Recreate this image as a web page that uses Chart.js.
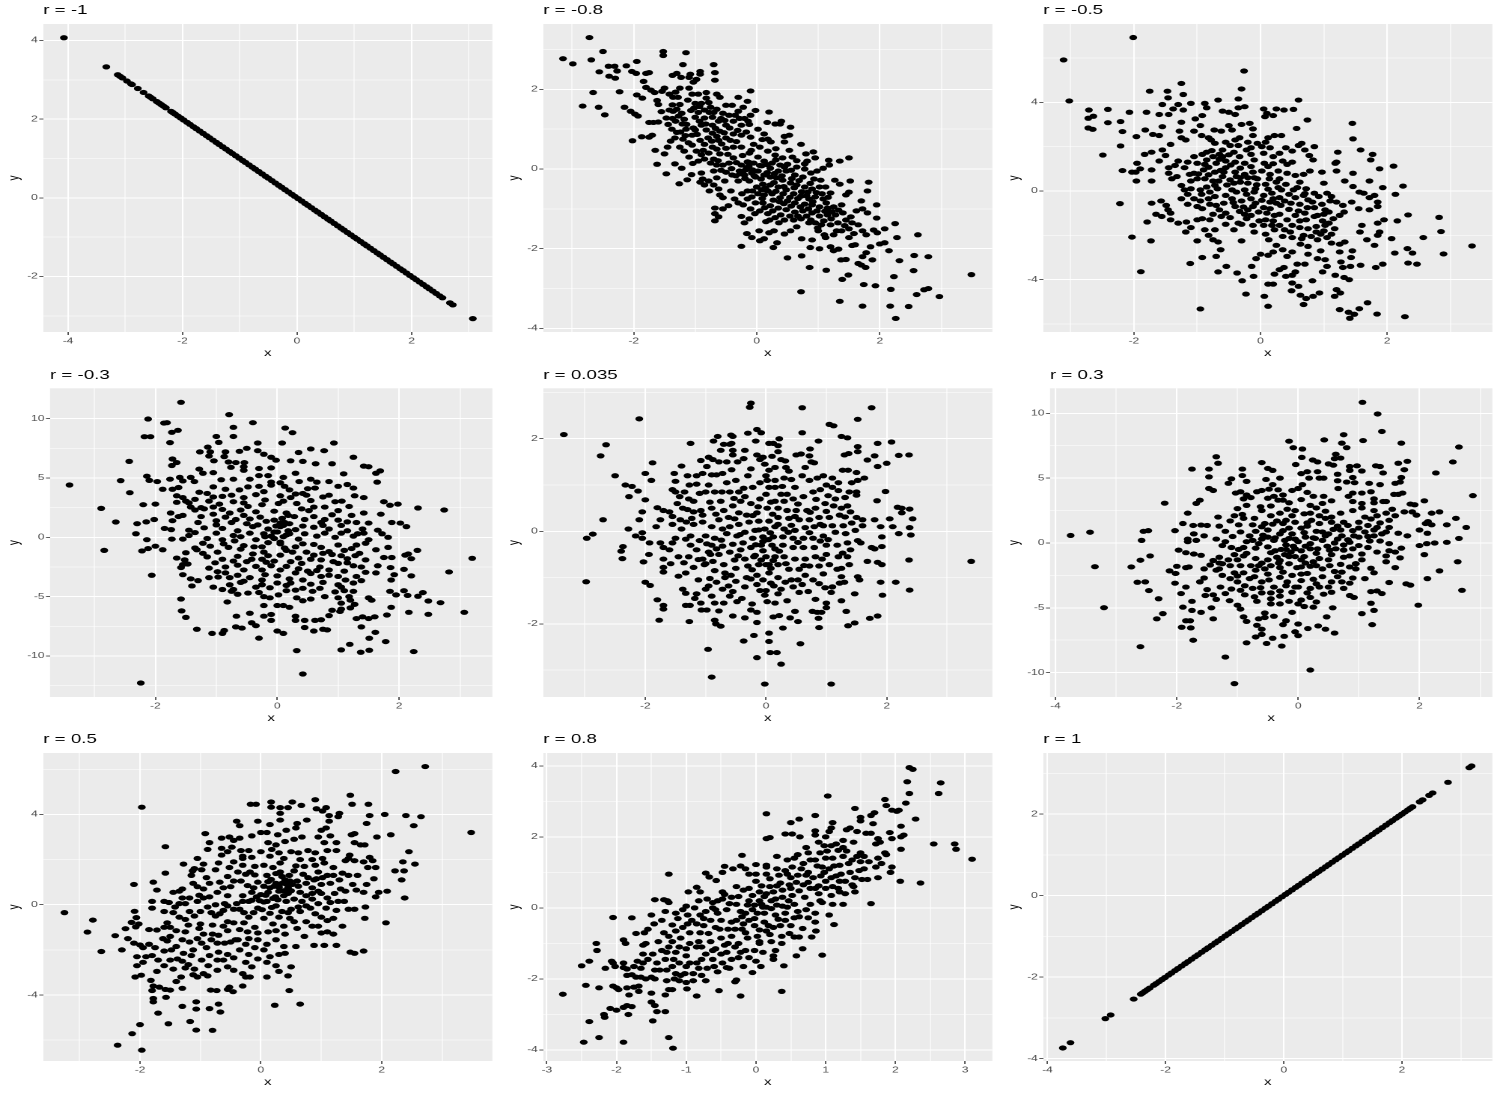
<!DOCTYPE html>
<html>
<head>
<meta charset="utf-8">
<title>Correlation scatter panels</title>
<script src="https://cdn.jsdelivr.net/npm/chart.js@4"></script>
<style>
  html, body { margin: 0; padding: 0; background: #fff; }
  #page { position: relative; width: 1500px; height: 1094px; overflow: hidden; }
  .cell { position: absolute; width: 334px; height: 365px; transform-origin: 0 0; }
  .cell canvas { display: block; }
</style>
</head>
<body>
<div id="page"></div>
<script>
// Samples for each panel, as [x, y].
const pointsNeg100 = [[-4.07,4.07],[-3.33,3.33],[-3.13,3.13],[-3.09,3.09],[-3.05,3.05],[-2.97,2.97],[-2.9,2.9],[-2.88,2.88],[-2.78,2.78],[-2.68,2.68],[-2.59,2.59],[-2.56,2.56],[-2.52,2.52],[-2.45,2.45],[-2.41,2.41],[-2.37,2.37],[-2.33,2.33],[-2.29,2.29],[-2.2,2.2],[-2.17,2.17],[-2.13,2.13],[-2.08,2.08],[-2.03,2.03],[-1.98,1.98],[-1.92,1.92],[-1.87,1.87],[-1.81,1.81],[-1.76,1.76],[-1.7,1.7],[-1.64,1.64],[-1.58,1.58],[-1.53,1.53],[-1.47,1.47],[-1.41,1.41],[-1.36,1.36],[-1.3,1.3],[-1.24,1.24],[-1.18,1.18],[-1.13,1.13],[-1.07,1.07],[-1.01,1.01],[-0.95,0.95],[-0.9,0.9],[-0.84,0.84],[-0.78,0.78],[-0.73,0.73],[-0.67,0.67],[-0.61,0.61],[-0.55,0.55],[-0.5,0.5],[-0.44,0.44],[-0.38,0.38],[-0.32,0.32],[-0.27,0.27],[-0.21,0.21],[-0.15,0.15],[-0.09,0.09],[-0.04,0.04],[0.02,-0.02],[0.08,-0.08],[0.14,-0.14],[0.19,-0.19],[0.25,-0.25],[0.31,-0.31],[0.36,-0.36],[0.42,-0.42],[0.48,-0.48],[0.54,-0.54],[0.59,-0.59],[0.65,-0.65],[0.71,-0.71],[0.77,-0.77],[0.82,-0.82],[0.88,-0.88],[0.94,-0.94],[1.0,-1.0],[1.05,-1.05],[1.11,-1.11],[1.17,-1.17],[1.22,-1.22],[1.28,-1.28],[1.34,-1.34],[1.4,-1.4],[1.45,-1.45],[1.51,-1.51],[1.57,-1.57],[1.63,-1.63],[1.68,-1.68],[1.74,-1.74],[1.8,-1.8],[1.85,-1.85],[1.91,-1.91],[1.97,-1.97],[2.03,-2.03],[2.08,-2.08],[2.14,-2.14],[2.2,-2.2],[2.26,-2.26],[2.31,-2.31],[2.37,-2.37],[2.43,-2.43],[2.49,-2.49],[2.54,-2.54],[2.67,-2.67],[2.72,-2.72],[3.07,-3.07]];

const pointsNeg80 = [[-3.15,2.77],[-2.99,2.64],[-2.72,3.3],[-2.69,2.74],[-2.5,2.95],[-2.56,2.44],[-2.66,1.92],[-2.83,1.58],[-2.57,1.55],[-2.47,1.36],[-2.41,2.58],[-2.31,2.58],[-2.4,2.33],[-2.27,2.46],[-2.3,2.28],[-2.23,1.94],[-2.12,2.59],[-1.95,2.7],[-2.03,2.45],[-1.96,2.4],[-2.15,1.55],[-2.05,1.45],[-1.98,1.38],[-1.93,1.33],[-2.02,0.71],[-1.87,0.81],[-1.75,0.8],[-1.7,0.85],[-1.95,1.86],[-1.86,1.78],[-1.84,2.2],[-1.8,2.4],[-1.75,2.42],[-1.8,2.05],[-1.72,1.98],[-1.66,1.92],[-1.75,1.17],[-1.68,1.17],[-1.6,1.18],[-1.65,0.47],[-1.62,0.12],[-1.47,-0.12],[-1.26,-0.37],[-1.13,-0.27],[-1.06,-0.14],[-1.33,0.13],[-1.22,0.02],[-1.5,0.38],[-1.45,0.55],[-1.4,0.7],[-1.54,1.95],[-1.5,2.03],[-1.42,1.88],[-1.36,1.8],[-1.62,1.72],[-1.6,1.62],[-1.55,1.44],[-1.47,1.28],[-1.44,1.12],[-1.38,1.0],[-1.3,0.92],[-1.52,2.95],[-1.52,2.85],[-1.15,2.92],[-1.2,2.62],[-0.7,2.62],[-0.68,2.42],[-0.68,2.23],[-1.37,2.35],[-1.3,2.4],[-1.23,2.3],[-1.1,2.3],[-1.08,2.38],[-0.92,2.45],[-0.92,2.38],[-1.03,2.18],[-0.98,2.25],[-1.32,1.93],[-1.25,2.03],[-1.1,2.03],[-1.05,1.88],[-0.95,1.88],[-0.82,1.92],[-0.82,1.78],[-0.65,1.88],[-0.6,1.8],[-1.28,1.8],[-1.25,1.62],[-1.3,1.5],[-1.22,1.4],[-1.36,1.45],[-1.42,1.48],[-1.18,1.25],[-1.32,1.2],[-1.15,1.0],[-1.05,0.85],[-1.2,0.75],[-1.25,0.55],[-1.18,0.45],[-1.05,0.6],[-1.1,0.3],[-0.98,0.45],[-0.95,0.2],[-1.04,0.14],[-0.9,-0.1],[-0.88,-0.25],[-0.85,-0.4],[-0.78,-0.3],[-0.77,-0.55],[-0.65,-0.22],[-0.62,-0.5],[-0.6,-0.65],[-0.55,-0.72],[-0.68,-0.98],[-0.68,-1.12],[-0.68,-1.3],[-0.62,-1.2],[-0.55,-1.0],[-0.46,-0.92],[-0.36,-0.75],[-0.3,-0.85],[-0.22,-0.9],[-0.15,-0.75],[-0.25,-1.19],[-0.2,-1.35],[-0.12,-1.25],[-0.03,-1.12],[-0.16,-1.62],[-0.08,-1.72],[-0.25,-1.94],[0.04,-1.55],[0.05,-1.8],[0.12,-1.75],[0.2,-1.6],[0.27,-1.97],[0.33,-1.85],[0.28,-1.55],[0.45,-1.63],[0.55,-1.55],[0.65,-1.45],[0.5,-2.23],[0.73,-2.18],[0.73,-1.75],[0.72,-3.08],[0.86,-2.47],[0.87,-1.97],[0.9,-1.78],[1.02,-2.0],[1.13,-2.54],[1.2,-1.95],[1.25,-2.05],[1.1,-1.65],[1.0,-1.55],[0.85,-1.35],[1.33,-2.01],[1.35,-3.32],[1.37,-2.28],[1.45,-2.27],[1.39,-2.77],[1.49,-2.66],[1.65,-2.37],[1.7,-2.41],[1.74,-2.9],[1.72,-3.44],[1.77,-2.47],[1.78,-2.1],[1.85,-1.95],[1.72,-2.2],[1.88,-2.28],[1.93,-2.93],[2.17,-3.44],[2.18,-3.02],[2.15,-2.05],[2.23,-2.7],[2.26,-3.75],[2.47,-3.45],[2.32,-2.3],[2.28,-1.72],[2.25,-1.37],[2.55,-2.55],[2.56,-2.17],[2.6,-3.15],[2.62,-1.65],[2.72,-3.03],[2.79,-3.0],[2.79,-2.2],[2.97,-3.2],[3.49,-2.65],[2.08,-1.85],[2.0,-1.88],[2.08,-1.5],[1.96,-1.6],[1.9,-1.53],[1.95,-1.23],[1.95,-0.9],[1.8,-1.1],[1.8,-0.55],[1.82,-0.33],[1.7,-0.8],[1.72,-1.0],[1.62,-1.05],[1.52,-0.3],[1.5,-0.58],[1.45,-0.65],[1.35,-0.38],[1.27,-0.28],[1.5,0.28],[1.35,0.2],[1.17,0.22],[1.18,0.1],[1.08,0.02],[0.98,-0.05],[0.92,0.43],[0.8,0.38],[0.72,0.62],[0.95,0.28],[0.82,0.2],[0.55,1.05],[0.4,1.2],[0.38,1.13],[0.3,1.13],[0.2,1.43],[0.17,1.17],[-0.1,1.96],[-0.15,1.7],[-0.3,1.8],[-0.22,1.55],[-0.4,1.6],[-0.5,1.6],[-0.1,1.35],[-0.02,1.47],[-0.2,1.27],[-0.35,1.35],[-0.3,1.45],[-0.45,1.35],[-0.55,1.4],[-0.65,1.5],[-0.75,1.55],[-0.9,1.65],[-1.0,1.65],[-0.85,1.48],[-0.95,1.42],[-1.0,1.3],[-0.85,1.28],[-0.72,1.3],[-0.62,1.2],[-0.72,1.1],[-0.9,1.1],[-0.82,0.98],[-0.72,0.9],[-0.6,0.95],[-0.5,1.1],[-0.38,1.2],[-0.25,1.1],[-0.12,1.12],[0.02,1.0],[0.12,0.88],[0.18,0.75],[0.45,0.82],[0.53,0.85],[0.45,0.68],[0.58,0.3],[0.42,0.28],[0.3,0.35],[0.18,0.45],[0.05,0.55],[-0.05,0.62],[-0.1,0.8],[-0.25,0.85],[-0.38,0.88],[-0.5,0.78],[-0.62,0.72],[-0.72,0.55],[-0.85,0.62],[-0.92,0.72],[-0.78,0.4],[-0.7,0.25],[-0.6,0.38],[-0.5,0.52],[-0.38,0.55],[-0.25,0.55],[-0.12,0.4],[0.02,0.3],[0.12,0.2],[0.25,0.15],[0.38,0.1],[0.5,0.12],[0.65,0.05],[0.78,0.0],[0.88,-0.1],[0.75,-0.2],[0.62,-0.15],[0.48,-0.05],[0.35,-0.05],[0.22,0.02],[0.08,0.08],[-0.05,0.15],[-0.15,0.18],[-0.25,0.1],[-0.38,0.28],[-0.45,0.15],[-0.55,0.1],[-0.65,0.1],[-0.75,0.15],[-0.5,-0.08],[-0.4,-0.15],[-0.28,-0.05],[-0.18,-0.02],[-0.08,-0.1],[-0.02,-0.2],[-0.2,-0.15],[-0.3,-0.3],[-0.12,-0.3],[0.02,-0.05],[0.12,-0.15],[0.22,-0.2],[0.32,-0.22],[0.42,-0.28],[0.55,-0.35],[0.65,-0.4],[0.78,-0.45],[0.9,-0.5],[1.02,-0.45],[1.12,-0.45],[1.2,-0.6],[1.08,-0.75],[0.95,-0.7],[0.85,-0.75],[0.72,-0.68],[0.6,-0.62],[0.48,-0.52],[0.35,-0.45],[0.22,-0.4],[0.1,-0.38],[0.0,-0.45],[0.02,-0.62],[0.12,-0.65],[0.25,-0.62],[0.38,-0.72],[0.5,-0.8],[0.62,-0.85],[0.78,-0.88],[0.9,-0.9],[1.02,-0.95],[1.15,-0.98],[1.25,-0.95],[1.38,-0.9],[1.4,-1.1],[1.28,-1.15],[1.15,-1.15],[1.02,-1.18],[0.9,-1.1],[0.75,-1.05],[0.62,-1.08],[0.48,-1.02],[0.35,-0.98],[0.22,-0.92],[0.1,-0.85],[-0.02,-0.85],[0.05,-1.05],[0.18,-1.12],[0.3,-1.22],[0.45,-1.28],[0.6,-1.28],[0.72,-1.25],[0.88,-1.28],[1.05,-1.4],[1.2,-1.4],[1.32,-1.35],[1.45,-1.28],[1.55,-1.35],[1.65,-1.4],[1.5,-1.5],[1.38,-1.55],[1.25,-1.65],[1.12,-1.72],[1.58,-1.62],[1.72,-1.55],[1.78,-1.65],[1.5,-1.72],[1.6,-1.9],[1.55,-1.92],[0.15,-1.32],[-0.1,-1.0],[-0.52,-0.3],[-0.7,-0.4],[-0.65,0.5],[-0.85,0.25],[-0.7,-0.05],[-0.92,-0.33],
[-1.37,1.61],[-1.27,1.33],[-1.12,1.73],[-1.07,1.47],[-0.93,1.57],[-1.14,1.12],[-1.24,0.93],[-1.03,1.03],[-0.97,0.87],[-1.11,0.66],[-0.83,1.13],[-0.77,1.42],[-0.58,1.27],[-0.67,1.02],[-0.44,1.03],[-0.53,0.91],[-0.31,0.97],[-0.43,0.72],[-0.57,0.63],[-0.79,0.78],[-0.87,0.47],[-0.33,0.69],[-0.17,0.93],[-0.09,0.47],[-0.23,0.34],[-0.47,0.37],[-0.63,0.21],[-0.33,0.16],[-0.13,0.07],[-0.27,-0.12],[-0.41,0.01],[-0.58,-0.03],[-0.19,-0.24],[-0.07,-0.02],[-0.34,-0.17],[-0.12,0.16],[0.05,0.09],[-0.16,0.03],[-0.23,-0.07],[-0.04,-0.17],[0.07,-0.25],[0.17,-0.09],[0.29,-0.11],[0.17,0.11],[0.31,0.23],[0.45,0.05],[0.56,-0.03],[0.41,-0.17],[0.57,-0.24],[0.69,-0.29],[0.28,-0.34],[0.14,-0.48],[0.44,-0.44],[0.61,-0.47],[0.73,-0.57],[0.83,-0.58],[0.97,-0.59],[1.06,-0.62],[1.16,-0.71],[0.91,-0.82],[0.81,-0.67],[0.67,-0.74],[0.54,-0.71],[0.43,-0.62],[0.31,-0.56],[0.18,-0.55],[0.08,-0.52],[-0.07,-0.55],[0.09,-0.74],[0.27,-0.78],[0.44,-0.87],[0.56,-0.93],[0.71,-0.95],[0.84,-1.0],[0.98,-1.05],[1.11,-1.06],[1.22,-1.07],[1.33,-1.03],[1.21,-1.25],[1.09,-1.3],[0.95,-1.35],[0.81,-1.18],[0.67,-1.18],[0.54,-1.18],[0.39,-1.15],[0.26,-1.05],[0.13,-0.97],[-0.15,-0.55],[-0.42,-0.55],[-0.24,-0.62],[-0.08,-0.7],[0.65,0.21],[0.78,0.13],[0.93,-0.25],[1.04,-0.28],[0.87,-0.36],[0.53,0.47],[0.23,0.68],[0.09,0.74],[0.31,0.51],[-0.65,0.82],[-1.0,0.98],[-0.9,0.36],[-1.02,1.53],[-0.78,1.67],[-1.21,1.13],[-0.73,0.7],[-1.37,1.27],[-1.33,0.78],[-1.16,0.84],[-0.52,1.22],[-0.28,1.27],[-0.14,1.2],[0.37,-0.82],[1.53,-1.2],[1.43,-1.42],[1.3,-1.55],[0.99,-1.48],[1.13,-0.85],[0.21,-1.28],[0.36,-1.35],[-0.93,1.2],[-0.7,1.42]];

const pointsNeg50 = [[-3.11,5.91],[-2.01,6.92],[-3.02,4.06],[-0.26,5.41],[-2.71,3.65],[-2.72,3.28],[-2.64,3.37],[-2.72,2.84],[-2.65,2.78],[-2.41,3.68],[-2.41,3.08],[-2.07,3.55],[-2.21,3.13],[-2.18,2.68],[-2.49,1.62],[-2.21,2.03],[-2.18,0.92],[-2.22,-0.57],[-2.03,-2.08],[-1.89,-3.64],[-0.95,-5.32],[3.34,-2.48],[2.82,-1.19],[2.85,-1.83],[2.89,-2.84],[2.57,-2.1],[2.28,-5.67],[1.41,-5.74],[1.84,-5.55],[1.69,-5.04],[1.56,-5.31],[1.48,-5.56],[1.39,-5.47],[1.25,-5.35],[-1.25,4.85],[-1.75,4.5],[-1.47,4.5],[-1.46,4.2],[-1.22,4.35],[-1.55,3.9],[-1.3,3.9],[-1.38,3.7],[-1.22,3.65],[-1.45,3.45],[-1.6,3.45],[-1.8,3.55],[-1.1,3.95],[-0.88,3.95],[-0.85,3.75],[-0.67,4.1],[-0.3,4.6],[-0.35,4.15],[-0.5,3.55],[-0.6,3.6],[-0.35,3.75],[-0.25,3.8],[-0.4,3.45],[0.05,3.7],[0.25,3.7],[0.37,3.65],[0.52,3.68],[0.6,4.1],[0.1,3.5],[0.07,3.35],[0.2,3.4],[0.74,3.2],[0.57,2.82],[1.45,3.05],[1.46,2.35],[0.85,2.0],[0.65,2.15],[0.6,2.05],[0.7,1.85],[0.77,1.6],[0.83,1.4],[1.22,1.75],[1.58,1.85],[1.77,1.65],[1.74,1.4],[1.88,1.0],[2.1,1.12],[1.2,1.3],[1.18,1.25],[0.97,0.85],[1.2,0.9],[1.46,0.8],[1.33,0.45],[1.72,0.45],[1.93,0.15],[2.25,0.22],[2.13,-0.15],[1.46,0.2],[1.56,-0.05],[1.63,-0.1],[1.8,-0.2],[1.72,-0.3],[1.85,-0.5],[1.44,-0.5],[1.55,-0.8],[1.72,-0.85],[1.85,-0.7],[2.33,-1.08],[2.16,-1.35],[1.95,-1.3],[1.85,-1.45],[1.6,-1.55],[1.57,-1.85],[1.68,-2.2],[1.88,-1.85],[1.85,-2.0],[1.8,-2.45],[2.07,-2.15],[2.12,-2.8],[2.32,-2.6],[2.4,-2.8],[2.33,-3.25],[2.47,-3.3],[1.93,-3.3],[1.82,-3.45],[1.58,-3.35],[1.42,-3.4],[1.3,-3.45],[1.45,-2.7],[1.43,-3.0],[1.33,-2.3],[1.25,-2.75],[1.27,-3.2],[1.18,-3.8],[1.32,-3.9],[1.4,-4.0],[1.2,-4.45],[1.17,-4.75],[1.26,-4.6],[0.93,-4.6],[0.83,-4.75],[0.72,-4.85],[0.63,-4.7],[0.68,-5.12],[0.49,-4.5],[0.6,-4.3],[0.5,-4.15],[0.82,-4.05],[0.2,-4.2],[0.12,-4.2],[0.06,-4.75],[0.12,-5.2],[-0.23,-4.65],[-0.29,-4.05],[-0.37,-3.7],[-0.11,-3.85],[-0.54,-3.4],[-0.67,-3.65],[-0.14,-3.4],[-0.07,-3.05],[-0.7,-2.95],[-0.92,-3.0],[-1.11,-3.27],[-0.63,-2.65],[-0.67,-2.3],[-1.0,-2.25],[-0.82,-2.0],[-0.75,-2.2],[-1.73,-2.25],[-1.79,-1.4],[-1.72,-0.55],[-1.57,-0.45],[-1.49,-0.65],[-1.46,-0.85],[-1.42,-1.0],[-1.65,-1.05],[-1.56,-1.15],[-1.42,-1.3],[-1.3,-1.45],[-1.17,-1.4],[-1.1,-1.65],[-1.18,-1.85],[-1.0,-1.3],[-0.92,-1.25],[-0.88,-1.75],[-0.8,-1.3],[-0.72,-1.75],[-0.55,-1.5],[-0.42,-1.75],[-0.3,-1.5],[-0.3,-2.25],[-0.22,-1.25],[-0.1,-1.85],[-0.02,-1.35],[0.08,-1.95],[0.13,-2.2],[0.0,-2.85],[0.12,-2.9],[0.2,-2.75],[0.25,-2.45],[0.35,-2.65],[0.42,-2.95],[0.37,-3.45],[0.3,-3.55],[0.22,-3.75],[0.4,-3.85],[0.5,-3.8],[0.58,-3.3],[0.55,-3.65],[0.7,-3.3],[0.75,-2.85],[0.9,-3.05],[0.5,-2.75],[0.63,-2.4],[0.75,-2.5],[0.9,-2.2],[0.95,-2.7],[1.02,-3.1],[0.98,-3.65],[1.05,-3.4],[1.12,-2.35],[1.05,-2.1],[1.0,-1.8],[0.88,-1.6],[0.72,-1.3],[0.62,-1.65],[0.5,-2.1],[0.38,-1.75],[0.3,-1.55],[0.2,-1.35],[0.08,-1.3],[0.22,-1.75],[0.42,-1.3],[0.55,-1.1],[0.7,-1.0],[0.85,-0.75],[0.98,-1.35],[1.15,-1.25],[1.25,-1.1],[1.3,-0.65],[1.1,-0.45],[1.02,-0.85],[0.92,-0.25],[0.75,-0.4],[0.62,-0.6],[0.48,-0.55],[0.32,-0.65],[0.15,-0.5],[0.05,-0.75],[-0.08,-0.55],[-0.2,-0.85],[-0.3,-0.45],[-0.4,-0.7],[-0.45,-0.35],[-0.55,-1.0],[-0.7,-0.65],[-0.82,-0.35],[-0.92,-0.8],[-1.05,-0.35],[-1.15,-0.15],[-1.25,-0.35],[-1.1,0.1],[-0.95,0.05],[-0.8,-0.05],[-0.68,0.1],[-0.55,-0.2],[-0.38,-0.05],[-0.22,-0.15],[-0.08,0.1],[0.05,-0.2],[0.18,-0.1],[0.3,-0.3],[0.45,-0.15],[0.58,0.15],[0.72,0.1],[0.85,-0.1],[1.0,0.35],[1.12,-0.25],[0.4,0.3],[0.25,0.4],[0.08,0.3],[-0.05,0.55],[-0.2,0.6],[-0.32,0.4],[-0.48,0.5],[-0.6,0.65],[-0.75,0.45],[-0.88,0.55],[-1.0,0.55],[-1.1,0.45],[-1.25,0.25],[-1.05,0.8],[-0.9,0.95],[-0.72,0.85],[-0.55,1.05],[-0.4,0.85],[-0.25,0.75],[-0.12,0.85],[0.02,0.9],[0.12,1.1],[0.28,0.9],[0.42,0.8],[0.5,1.3],[0.35,1.35],[0.2,1.55],[0.05,1.7],[-0.1,1.4],[-0.25,1.25],[-0.4,1.3],[-0.55,1.35],[-0.7,1.25],[-0.85,1.4],[-1.0,1.25],[-1.15,1.3],[-1.3,1.35],[-1.45,1.05],[-1.32,0.65],[-1.45,0.8],[-1.6,1.35],[-1.72,1.75],[-1.55,1.85],[-1.42,2.1],[-1.5,1.6],[-1.72,0.95],[-1.72,0.45],[-1.9,1.0],[-1.97,0.85],[-2.03,0.85],[-1.96,0.45],[-1.95,1.25],[-1.83,1.65],[-1.7,2.55],[-1.6,2.5],[-1.55,2.9],[-1.82,2.75],[-1.96,2.45],[-1.25,3.1],[-1.25,2.4],[-1.18,2.3],[-1.28,2.7],[-1.03,3.25],[-0.92,3.4],[-0.95,2.95],[-1.05,2.7],[-0.93,2.5],[-0.82,2.4],[-0.73,2.75],[-0.62,2.7],[-0.5,2.95],[-0.45,2.75],[-0.3,3.0],[-0.17,3.05],[-0.12,2.8],[-0.33,2.4],[-0.12,2.5],[0.12,2.4],[0.22,2.5],[0.33,2.5],[0.08,2.2],[-0.05,2.15],[-0.2,2.2],[-0.4,2.3],[-0.55,2.2],[-0.72,2.15],[-0.85,1.75],[-0.75,1.55],[-0.6,1.85],[-0.42,1.75],[-0.22,1.85],[0.15,1.95],[0.3,1.7],[0.4,1.95],[0.5,1.8],[0.42,1.2],[0.55,0.7],[0.78,0.9],[0.62,0.4],[-1.0,-0.7],[-0.62,-1.15],[-0.25,-1.05],[0.1,-1.0],[-0.45,0.05],[-0.15,-0.35],[0.33,0.05],[-0.6,1.55],[-1.4,0.55],
[-0.77,1.82],[-0.65,1.43],[-0.5,1.63],[-0.33,1.55],[-0.15,1.65],[-0.92,1.65],[-1.05,1.55],[-0.82,1.07],[-0.63,0.93],[-0.47,1.17],[-0.32,1.03],[-0.15,1.1],[0.06,1.25],[0.2,1.23],[-0.98,0.77],[-0.82,0.73],[-0.66,0.45],[-0.53,0.27],[-0.38,0.65],[-0.2,0.35],[-0.06,0.28],[0.14,0.55],[0.28,0.15],[-0.93,-0.15],[-0.72,-0.25],[-0.58,-0.55],[-0.43,-0.52],[-0.27,-0.72],[-0.12,-0.7],[0.02,-0.42],[0.2,-0.35],[0.38,-0.45],[0.55,-0.3],[0.68,-0.2],[0.82,-0.5],[0.97,-0.6],[1.08,-0.95],[0.9,-1.1],[0.74,-0.75],[0.6,-0.9],[0.45,-0.83],[0.3,-1.05],[0.15,-0.8],[-0.03,-0.95],[-0.15,-1.1],[-0.33,-0.92],[-0.48,-1.2],[0.88,-1.85],[0.75,-1.7],[0.62,-1.35],[0.5,-1.55],[0.35,-2.05],[0.18,-1.55],[1.02,-1.55],[1.17,-1.7],[1.12,-1.95],[1.25,-2.4],[0.95,-1.95],[0.8,-2.05],[0.68,-2.0],[-0.8,-0.6],[-0.65,-0.85],[-0.95,-0.45],[-1.15,-0.6],[-1.2,0.05],[-0.85,0.18],[-0.72,0.25],[-0.25,0.05],[-0.1,-0.05],[0.12,0.08],[0.25,-0.55],[0.52,0.05],[0.7,-0.12],[1.05,-0.1],[1.2,-0.5],[1.32,-0.95],[-0.42,0.35],[-0.15,1.95],[0.02,2.0],[-0.35,2.05],[-0.65,1.65],[-0.88,1.2],[-1.2,1.05],[-1.12,0.75],[-1.35,1.15],[-0.48,2.05],[-0.78,2.3],[-0.32,0.6],[-0.58,0.85],[-0.1,0.6],[0.15,0.75],[0.3,0.55],[0.68,0.75],[-0.75,-1.05],[-0.35,-1.45],[-0.12,-1.55],[0.05,-1.55],[0.22,-1.1],[0.47,-1.85],[0.65,-2.15],[0.85,-1.15],[1.0,-1.05],[1.08,-1.45]];

const pointsNeg30 = [[-3.41,4.41],[-2.89,2.44],[-2.65,1.29],[-2.84,-1.1],[-1.58,11.38],[-2.12,9.97],[-0.79,10.34],[-1.86,9.63],[-1.81,9.66],[-0.4,9.66],[-0.72,9.27],[0.13,9.21],[0.25,8.82],[-1.63,9.02],[-1.73,8.85],[-2.18,8.48],[-2.08,8.48],[-1.76,7.98],[-2.43,6.4],[-2.57,4.78],[-2.42,3.76],[-2.24,-12.28],[0.42,-11.52],[0.32,-9.55],[2.24,-9.63],[1.05,-9.49],[1.19,-9.02],[1.37,-9.69],[1.51,-9.52],[1.51,-8.51],[1.61,-8.01],[1.78,-8.79],[3.07,-6.32],[3.2,-1.77],[2.82,-2.92],[2.74,2.3],[2.31,2.47],[2.48,-5.37],[2.68,-5.51],[2.48,-6.49],[2.39,-4.66],[2.31,-4.97],[2.16,-6.32],[-1.0,8.5],[-0.96,8.0],[-0.72,8.5],[-0.32,7.95],[0.08,7.95],[0.93,7.95],[-1.14,7.6],[-0.5,7.5],[0.55,7.45],[0.77,7.3],[-1.27,7.2],[-1.1,7.2],[-0.85,7.2],[-0.62,7.25],[-0.32,7.3],[-0.22,7.0],[0.35,7.15],[-1.12,6.85],[-0.87,6.8],[-0.1,6.75],[-0.02,6.5],[1.25,6.75],[-1.72,6.6],[-1.65,6.3],[-1.73,6.05],[-1.04,6.45],[-0.8,6.35],[-0.68,6.3],[-0.54,6.3],[0.22,6.45],[0.42,6.4],[0.63,6.2],[0.9,6.2],[1.42,6.0],[1.5,5.95],[-0.55,5.95],[-1.28,5.75],[-0.76,5.9],[-0.3,5.8],[-0.1,5.85],[1.62,5.4],[1.69,5.6],[1.09,5.35],[0.3,5.4],[-1.6,5.05],[-1.42,5.05],[-1.22,5.4],[-1.05,5.45],[-0.55,5.65],[-0.3,5.2],[-0.15,5.2],[0.1,5.05],[0.55,4.9],[-2.14,5.15],[-2.1,4.8],[-1.97,4.7],[-1.76,4.9],[-1.55,4.75],[-1.36,4.7],[-0.92,4.85],[-0.72,4.9],[-0.45,4.9],[-0.1,4.65],[0.05,4.6],[0.36,4.7],[0.65,4.65],[0.85,4.7],[1.15,4.45],[1.64,4.65],[-1.88,4.05],[-1.72,4.05],[-1.62,4.2],[-1.05,4.25],[-0.62,4.0],[-0.48,4.25],[-0.3,4.3],[-0.1,4.4],[0.12,4.3],[0.5,4.1],[0.62,4.15],[1.0,4.3],[1.25,4.15],[-1.65,3.5],[-1.55,3.35],[-1.28,3.8],[-1.15,3.7],[-0.9,3.45],[-0.75,3.55],[-0.35,3.6],[0.3,3.65],[0.42,3.7],[0.75,3.4],[1.27,3.5],[1.42,3.35],[-2.0,2.8],[-1.65,2.95],[-1.5,3.05],[-1.35,3.2],[-1.12,3.05],[-0.95,2.8],[-0.55,2.9],[-0.2,3.15],[0.1,3.05],[0.32,2.85],[0.55,3.1],[0.95,3.0],[1.06,3.05],[1.75,3.0],[1.85,2.7],[1.98,2.8],[-2.2,2.75],[-1.75,2.05],[-1.55,1.85],[-1.35,2.3],[-1.25,2.5],[-1.05,1.95],[-0.85,1.7],[-0.6,2.3],[-0.35,2.15],[-0.05,2.2],[0.15,2.05],[0.52,2.25],[0.78,2.55],[1.0,2.25],[1.22,1.85],[1.42,2.05],[1.7,1.95],[-2.15,1.3],[-2.02,1.5],[-1.72,1.4],[-1.62,1.75],[-1.3,1.25],[-1.0,1.4],[-0.75,1.25],[-0.45,1.55],[-0.18,1.35],[0.08,1.6],[0.2,1.15],[0.45,1.5],[0.78,1.5],[1.0,1.45],[1.3,1.25],[1.5,1.2],[1.88,1.25],[2.02,1.2],[2.12,0.9],[-2.3,1.15],[-1.85,0.75],[-1.74,0.65],[-1.45,0.6],[-1.2,0.8],[-0.9,0.75],[-0.65,0.55],[-0.4,0.9],[-0.15,0.7],[0.05,0.9],[0.3,0.65],[0.6,0.85],[0.85,0.7],[1.15,0.55],[1.4,0.7],[1.65,0.6],[-2.32,0.3],[-2.14,-0.2],[-1.73,-0.15],[-1.55,-0.15],[-1.15,-0.1],[-0.9,-0.2],[-0.6,0.05],[-0.35,-0.2],[-0.1,0.1],[0.1,0.05],[0.35,-0.15],[0.65,0.1],[0.95,0.0],[1.25,0.1],[1.5,-0.2],[1.72,0.3],[1.82,0.0],[-2.22,-1.15],[-2.12,-0.95],[-2.0,-0.75],[-1.88,-1.05],[-1.5,-1.3],[-1.32,-1.05],[-1.1,-0.75],[-0.8,-0.85],[-0.55,-0.7],[-0.25,-0.8],[0.05,-0.55],[0.3,-0.8],[0.6,-0.6],[0.85,-1.2],[1.1,-1.1],[1.3,-0.65],[1.62,-1.05],[1.82,-0.85],[2.15,-1.4],[2.1,-1.5],[2.3,-1.1],[-1.65,-1.75],[-1.52,-1.9],[-1.15,-1.65],[-0.9,-1.85],[-0.65,-1.6],[-0.4,-1.4],[-0.15,-1.55],[0.05,-1.5],[0.35,-1.75],[0.6,-1.5],[0.9,-1.45],[1.15,-1.8],[1.45,-1.9],[1.75,-1.7],[1.88,-1.7],[2.2,-1.8],[-1.58,-2.55],[-1.47,-2.25],[-1.12,-2.6],[-0.85,-2.5],[-0.65,-2.35],[-0.35,-2.45],[-0.1,-2.4],[0.15,-2.45],[0.4,-2.2],[0.7,-2.5],[0.85,-2.75],[1.25,-2.4],[1.45,-2.95],[1.62,-3.0],[1.86,-2.55],[2.08,-2.7],[-2.06,-3.2],[-1.55,-3.15],[-1.42,-3.5],[-1.3,-3.65],[-1.12,-3.4],[-0.97,-3.35],[-0.65,-3.2],[-0.45,-3.4],[-0.2,-3.15],[0.0,-3.25],[0.3,-3.0],[0.55,-3.05],[0.85,-3.2],[1.0,-3.3],[1.3,-3.3],[1.38,-3.65],[1.92,-3.15],[1.87,-3.6],[2.2,-3.25],[-1.4,-4.1],[-1.05,-4.2],[-0.9,-4.4],[-0.78,-4.0],[-0.6,-3.8],[-0.35,-4.2],[0.0,-3.85],[0.15,-4.05],[0.3,-4.45],[0.55,-3.95],[0.75,-3.8],[1.0,-4.0],[1.25,-3.85],[-0.72,-4.4],[-0.65,-4.8],[-0.3,-4.65],[0.02,-4.85],[0.15,-4.5],[0.42,-4.3],[0.58,-4.55],[0.95,-4.6],[1.1,-4.5],[1.25,-4.55],[1.85,-4.55],[1.95,-4.85],[2.08,-4.5],[2.14,-4.9],[-1.58,-5.2],[-0.82,-5.45],[-0.22,-5.0],[0.42,-5.35],[0.55,-5.2],[1.0,-5.1],[1.18,-5.0],[1.5,-5.1],[1.55,-5.3],[-1.57,-6.2],[-1.5,-6.75],[-0.67,-6.65],[-0.45,-6.4],[-0.22,-6.65],[-0.1,-6.5],[0.0,-5.75],[0.1,-5.75],[0.2,-5.9],[-0.22,-5.75],[0.3,-6.65],[0.3,-7.0],[0.45,-7.0],[0.62,-7.0],[0.72,-6.95],[0.85,-6.6],[0.9,-6.15],[1.03,-6.25],[1.05,-6.05],[1.2,-5.95],[1.27,-5.65],[1.3,-6.85],[1.4,-6.7],[1.5,-6.85],[1.6,-6.7],[1.8,-6.55],[1.87,-5.9],[-1.32,-7.75],[-1.07,-8.1],[-0.9,-8.1],[-0.87,-7.85],[-0.68,-7.55],[-0.58,-7.65],[-0.42,-7.2],[-0.35,-7.45],[-0.3,-8.5],[-0.1,-7.0],[0.0,-7.9],[0.1,-8.1],[0.45,-7.6],[0.6,-7.9],[0.75,-7.75],[0.82,-7.8],[1.38,-7.55],[-1.55,-2.3],[0.2,0.3],[-0.05,-0.1],[0.1,1.0],[-0.25,-1.85],[0.25,-1.25],[-0.7,-0.3],[0.72,-1.9],[1.05,1.0],[-0.9,2.35],[-0.5,1.15],[0.4,2.4],[0.75,1.0],[-1.45,2.9],[-0.05,-2.0],[0.5,-2.85],[1.0,-2.2],
[-1.05,3.4],[-0.72,3.0],[-0.48,2.6],[-0.25,2.75],[0.02,2.85],[0.22,3.35],[0.48,3.55],[-0.78,2.05],[-0.55,1.85],[-0.28,1.7],[-0.05,1.45],[0.12,1.25],[0.28,1.75],[0.6,1.75],[0.9,1.9],[1.18,2.6],[-1.0,1.05],[-0.68,1.5],[-0.32,1.05],[-0.02,0.95],[0.18,1.85],[0.42,0.95],[0.72,1.25],[-1.35,0.4],[-1.0,0.35],[-0.72,0.15],[-0.45,0.35],[-0.22,0.3],[0.0,0.45],[0.18,0.55],[0.45,0.3],[0.78,0.35],[1.05,0.35],[1.32,0.3],[-1.22,-0.5],[-0.88,-0.55],[-0.6,-1.0],[-0.38,-0.8],[-0.15,-0.45],[0.12,-0.9],[0.42,-0.55],[0.72,-0.85],[1.0,-0.65],[1.22,-0.95],[1.45,-0.5],[-1.22,-1.35],[-0.98,-1.25],[-0.72,-2.0],[-0.42,-1.85],[-0.22,-1.25],[0.15,-1.1],[0.48,-1.25],[0.75,-1.35],[1.05,-1.55],[1.28,-1.55],[-1.02,-2.15],[-0.5,-2.05],[-0.18,-2.1],[0.22,-2.05],[0.55,-1.85],[0.92,-2.05],[1.15,-2.15],[1.38,-2.5],[1.65,-2.4],[-0.98,-2.9],[-0.55,-2.75],[-0.25,-2.75],[0.05,-2.75],[0.35,-2.65],[0.65,-2.8],[1.1,-2.85],[-0.85,-3.0],[-0.55,-3.7],[-0.25,-3.6],[0.2,-3.5],[0.42,-3.6],[0.72,-3.3],[1.12,-3.6],[-0.75,-4.55],[-0.48,-4.7],[-0.12,-4.25],[0.22,-3.85],[0.7,-4.3],[1.05,-4.2],[1.2,-5.3],[-0.78,-3.4],[-0.25,-4.0],[0.32,-5.1],[-0.12,-5.1],[0.78,-5.0],[1.05,-5.55],[-1.35,-0.9],[-1.45,0.15],[-1.25,1.75],[-1.2,2.4],[-1.42,2.55],[-0.85,4.05],[-0.55,3.35],[-0.22,3.85],[0.05,3.5],[0.2,4.0],[0.85,3.55],[0.6,2.55],[1.15,1.3],[1.42,0.35],[1.35,-1.35],[-1.05,2.55],[-0.05,0.45],[0.05,-0.4],[-0.2,0.05],[0.15,0.2],[0.05,1.2]];

const pointsZero = [[-3.35,2.09],[-2.1,2.43],[-2.74,1.63],[-2.65,1.87],[-2.5,1.2],[-2.33,1.0],[-2.22,0.97],[-2.12,0.87],[-2.27,0.75],[-1.88,1.48],[-2.0,1.25],[-1.9,1.1],[-2.0,0.68],[-2.05,0.42],[-2.1,0.25],[-1.8,0.51],[-1.7,0.45],[-1.6,0.42],[-1.55,0.32],[-1.82,0.1],[-1.75,0.25],[-2.28,0.05],[-2.16,-0.1],[-2.05,-0.03],[-2.05,-0.15],[-2.97,-0.15],[-2.87,-0.06],[-2.7,0.25],[-2.98,-1.09],[-2.37,-0.33],[-2.4,-0.43],[-2.38,-0.59],[-2.03,-0.66],[-1.93,-0.25],[-1.94,-0.5],[-1.75,-0.25],[-1.7,-0.35],[-1.55,-0.25],[-1.6,-0.4],[-1.7,-0.6],[-1.7,-0.78],[-1.7,-0.88],[-1.58,-0.7],[-1.45,-0.55],[-1.36,-0.68],[-1.45,-0.97],[-2.0,-1.1],[-1.92,-1.17],[-1.8,-1.48],[-1.7,-1.6],[-1.7,-1.68],[-1.77,-1.92],[-1.38,-1.25],[-1.33,-1.34],[-1.33,-1.6],[-1.26,-1.6],[-1.27,-1.95],[-1.18,-1.45],[-1.15,-1.35],[-1.0,-1.25],[-1.08,-1.55],[-1.07,-1.7],[-0.98,-1.7],[-1.0,-0.7],[-1.05,-0.6],[-0.9,-1.4],[-0.85,-1.55],[-0.78,-1.72],[-0.85,-1.92],[-0.83,-2.0],[-0.75,-2.05],[-0.96,-2.55],[-0.9,-3.15],[-0.37,-2.37],[-0.15,-2.73],[-0.2,-2.25],[-0.15,-1.97],[-0.25,-1.7],[-0.15,-1.75],[-0.35,-1.87],[-0.55,-1.83],[-0.23,-1.57],[-0.02,-3.3],[0.05,-2.2],[0.05,-2.38],[0.07,-2.62],[0.18,-2.62],[0.25,-2.87],[0.28,-2.09],[0.57,-2.43],[1.08,-3.3],[0.12,-1.85],[0.22,-1.82],[0.15,-1.55],[0.02,-1.52],[0.4,-1.87],[0.48,-1.73],[0.53,-1.95],[0.77,-1.73],[0.85,-1.75],[0.87,-1.88],[0.88,-2.08],[0.92,-1.75],[0.82,-1.47],[1.0,-1.65],[1.0,-1.55],[1.25,-1.5],[1.33,-1.73],[1.36,-2.04],[1.47,-1.98],[1.72,-1.88],[1.85,-1.83],[1.47,-1.35],[1.93,-1.38],[1.9,-1.1],[2.15,-1.1],[2.38,-1.27],[2.37,-0.62],[3.4,-0.65],[1.85,-0.67],[1.92,-0.72],[1.68,-0.65],[1.55,-1.05],[1.52,-0.98],[1.3,-1.1],[1.22,-1.12],[1.1,-1.2],[0.98,-1.22],[1.08,-1.32],[2.4,-0.08],[2.38,0.08],[2.43,0.27],[2.38,0.48],[2.25,0.5],[2.18,0.52],[2.25,0.4],[2.05,0.27],[2.1,0.1],[2.2,-0.05],[1.9,0.1],[1.92,-0.12],[1.92,-0.33],[1.8,-0.38],[1.75,-0.35],[1.57,-0.25],[1.6,0.12],[1.6,0.25],[1.84,0.66],[1.8,0.25],[1.98,0.86],[1.85,1.4],[2.0,1.47],[2.2,1.64],[2.37,1.65],[2.08,1.93],[1.85,1.9],[1.8,1.63],[1.68,1.54],[1.63,1.15],[1.52,1.1],[1.5,0.85],[1.5,0.78],[1.42,1.05],[1.5,1.27],[1.36,1.32],[1.27,1.32],[1.52,1.72],[1.52,1.83],[1.37,1.68],[1.3,1.65],[1.25,2.05],[1.35,2.02],[1.52,2.42],[1.75,2.67],[1.05,2.31],[1.12,2.28],[0.6,2.67],[0.6,2.13],[0.87,1.95],[0.73,1.78],[0.58,1.67],[0.5,1.65],[0.72,1.63],[0.75,1.5],[0.8,1.48],[0.38,1.3],[0.32,1.52],[0.33,1.38],[0.25,1.55],[0.2,1.72],[0.2,1.85],[0.12,1.9],[0.22,2.0],[0.05,1.9],[-0.15,1.65],[-0.1,1.55],[-0.05,1.6],[-0.02,1.45],[0.0,1.2],[0.02,1.1],[0.15,1.38],[0.1,1.62],[-0.08,2.13],[-0.15,2.2],[-0.3,2.12],[-0.25,2.77],[-0.27,2.68],[-0.17,1.95],[-0.57,1.9],[-0.58,2.08],[-0.55,2.05],[-0.8,2.05],[-0.87,1.95],[-0.7,1.88],[-0.6,1.88],[-0.55,1.75],[-0.55,1.65],[-0.37,1.57],[-0.47,1.5],[-1.25,1.9],[-1.08,1.53],[-0.95,1.6],[-0.88,1.55],[-0.78,1.5],[-0.65,1.5],[-1.4,1.41],[-1.3,1.2],[-1.15,1.2],[-1.05,1.25],[-0.9,1.22],[-0.82,1.22],[-0.72,1.25],[-1.52,1.25],[-1.5,1.08],[-1.55,0.9],[-1.5,0.85],[-1.43,0.75],[-1.47,0.6],[-1.38,0.5],[-1.27,1.0],[-1.15,1.02],[-1.1,0.82],[-1.0,0.85],[-1.2,0.65],[-1.3,0.47],[-1.2,0.42],[-1.08,0.45],[-1.05,0.35],[-0.9,0.5],[-0.85,0.85],[-0.75,0.65],[-0.65,1.05],[-0.6,0.85],[-0.5,1.1],[-0.45,0.85],[-0.3,1.2],[-0.22,0.95],[-0.1,1.05],[0.05,0.95],[0.15,0.95],[0.25,0.8],[0.35,0.8],[0.48,0.95],[0.6,1.2],[0.72,1.1],[0.85,1.15],[1.0,1.0],[1.1,0.95],[1.2,0.88],[1.2,1.05],[1.1,1.15],[0.9,0.9],[0.78,0.85],[0.62,0.75],[0.45,0.7],[0.3,0.65],[0.15,0.65],[0.0,0.8],[-0.1,0.7],[-0.25,0.6],[-0.42,0.65],[-0.55,0.55],[-0.7,0.45],[-0.78,0.25],[-0.62,0.3],[-0.45,0.4],[-0.32,0.35],[-0.15,0.4],[0.02,0.5],[0.2,0.5],[0.35,0.45],[0.5,0.45],[0.68,0.45],[0.82,0.5],[0.98,0.6],[1.12,0.55],[1.25,0.5],[1.35,0.55],[1.4,0.42],[1.22,0.35],[1.05,0.3],[0.88,0.3],[0.72,0.25],[0.55,0.25],[0.38,0.28],[0.2,0.3],[0.05,0.22],[-0.12,0.22],[-0.28,0.2],[-0.45,0.15],[-0.6,0.1],[-0.72,0.05],[-0.9,0.1],[-1.05,0.2],[-1.2,0.15],[-1.32,0.2],[-1.42,0.25],[-1.4,0.05],[-1.25,-0.1],[-1.0,-0.1],[-0.85,-0.15],[-0.65,-0.05],[-0.48,-0.1],[-0.35,-0.02],[-0.18,0.02],[-0.02,0.05],[0.15,0.1],[0.3,0.05],[0.48,0.02],[0.65,0.08],[0.8,0.1],[0.95,0.12],[1.1,0.12],[1.28,0.12],[1.42,0.18],[1.48,0.02],[1.32,-0.05],[1.15,-0.02],[0.95,-0.1],[0.78,-0.15],[0.62,-0.15],[0.45,-0.15],[0.28,-0.12],[0.12,-0.12],[-0.05,-0.12],[-0.22,-0.15],[-0.38,-0.25],[-0.55,-0.28],[-0.72,-0.32],[-0.9,-0.3],[-1.1,-0.2],[-1.25,-0.3],[-1.15,-0.4],[-0.95,-0.45],[-0.78,-0.5],[-0.6,-0.45],[-0.42,-0.4],[-0.25,-0.35],[-0.08,-0.3],[0.1,-0.3],[0.28,-0.3],[0.45,-0.35],[0.62,-0.35],[0.8,-0.35],[1.0,-0.3],[1.18,-0.3],[1.35,-0.25],[1.52,-0.2],[1.4,-0.4],[1.2,-0.55],[1.0,-0.5],[0.82,-0.55],[0.65,-0.6],[0.48,-0.6],[0.3,-0.55],[0.15,-0.55],[0.0,-0.55],[-0.18,-0.52],[-0.35,-0.6],[-0.52,-0.62],[-0.7,-0.72],[-0.88,-0.65],[-1.02,-0.72],[-1.28,-0.55],[-0.85,-0.85],[-0.68,-0.9],[-0.5,-0.8],[-0.3,-0.75],[-0.12,-0.72],[0.05,-0.72],[0.2,-0.72],[0.38,-0.82],[0.55,-0.82],[0.72,-0.75],[0.88,-0.75],[1.05,-0.72],[1.25,-0.8],[1.38,-0.72],[0.65,-0.95],[0.42,-1.05],[0.2,-1.0],[0.05,-0.9],[-0.15,-0.95],[-0.32,-1.0],[-0.5,-1.08],[-0.68,-1.0],[-0.82,-1.1],[-0.72,-1.25],[-0.55,-1.3],[-0.35,-1.2],[-0.15,-1.15],[0.0,-1.28],[0.25,-1.25],[0.45,-1.2],[0.6,-1.15],[0.78,-1.05],[0.2,-1.35],[-0.02,-1.38],[-0.4,-1.45],[-0.6,-1.4],[-0.7,-1.55],[0.35,-1.5],[0.55,-1.32],
[-0.93,0.63],[-0.53,0.71],[-0.37,0.93],[-0.13,0.53],[0.08,0.63],[0.27,0.97],[0.53,0.59],[0.83,0.69],[1.03,0.77],[1.31,0.73],[-1.23,0.28],[-0.83,0.37],[-0.52,0.27],[-0.22,0.34],[0.11,0.37],[0.42,0.13],[0.73,0.41],[1.0,0.43],[1.31,0.31],[-1.33,-0.17],[-0.98,-0.27],[-0.74,-0.19],[-0.43,-0.07],[-0.12,0.03],[0.07,-0.03],[0.37,-0.02],[0.72,-0.03],[1.03,-0.18],[-1.12,-0.61],[-0.82,-0.38],[-0.46,-0.53],[-0.17,-0.29],[0.04,-0.18],[0.22,-0.43],[0.53,-0.24],[0.9,-0.21],[1.27,-0.47],[-0.93,-1.02],[-0.58,-0.95],[-0.23,-0.83],[-0.05,-0.42],[0.12,-0.63],[0.33,-0.7],[0.63,-0.74],[0.93,-0.6],[1.18,-0.82],[-0.62,-1.18],[-0.25,-1.03],[0.08,-1.12],[0.32,-1.1],[0.53,-1.05],[0.7,-1.3],[0.88,-1.13],[-0.48,-1.52],[-0.1,-1.28],[0.13,-1.18],[-0.35,0.75],[-0.73,0.85],[-0.95,1.0],[-0.57,1.33],[-0.25,1.35],[0.05,1.32],[0.42,1.12],[0.65,1.38],[0.95,1.2],[-0.98,1.4],[-0.75,1.75],[-0.35,1.75],[-1.35,0.85],[-1.28,0.7],[-0.92,-0.5],[-1.2,-0.78],[-1.33,-0.9],[-1.12,-1.05],[-0.95,-1.18],[0.95,-0.92],[1.25,-0.98],[0.48,0.32],[0.2,0.15],[-0.05,-0.22],[-0.2,-0.55],[-0.08,-0.62],[0.0,-0.72],[0.15,-0.38],[0.08,-0.8],[-0.05,-1.05],[1.15,0.7],[1.38,0.85],[0.3,1.15],[0.15,1.1],[0.9,0.15],[1.5,0.3],[1.35,-0.55],[-1.5,-0.15],[-1.55,0.15]];

const pointsPos30 = [[-3.75,0.58],[-3.43,0.83],[-3.35,-1.83],[-3.2,-4.99],[-2.75,-1.85],[-2.6,-1.33],[-2.65,-3.03],[-2.52,-3.0],[-2.46,-3.67],[-2.3,-4.3],[-2.6,-8.0],[-2.33,-5.85],[-2.23,-5.45],[-2.58,0.2],[-2.55,0.9],[-2.47,0.95],[-2.44,-1.0],[-2.2,3.07],[-2.03,0.95],[-2.12,-2.15],[-2.02,-2.35],[-2.0,-1.8],[-1.97,-0.55],[-2.03,-3.1],[-1.93,-3.9],[-1.9,-4.95],[-1.85,-6.0],[-1.92,-6.5],[-1.78,-6.0],[-1.77,-6.55],[-1.73,-7.5],[-1.75,-5.2],[-1.75,-4.5],[-1.85,-3.4],[-1.8,-1.85],[-1.85,-1.9],[-1.85,-0.75],[-1.82,0.3],[-1.82,0.1],[-1.82,2.3],[-1.9,1.5],[-1.73,1.35],[-1.72,-0.85],[-1.6,-0.95],[-1.68,0.2],[-1.72,0.7],[-1.55,0.55],[-1.6,1.38],[-1.5,1.35],[-1.68,3.05],[-1.62,3.3],[-1.75,5.7],[-1.47,5.7],[-1.47,5.1],[-1.47,4.2],[-1.4,4.05],[-1.35,6.65],[-1.32,6.15],[-1.32,2.0],[-1.3,1.3],[-1.35,0.3],[-1.25,-0.2],[-1.3,-1.1],[-1.45,-1.7],[-1.55,-2.0],[-1.55,-2.7],[-1.62,-3.0],[-1.5,-3.6],[-1.53,-4.05],[-1.6,-5.35],[-1.43,-5.0],[-1.4,-5.85],[-1.4,-4.0],[-1.35,-2.1],[-1.3,-1.55],[-1.25,-2.5],[-1.28,-3.4],[-1.2,-3.9],[-1.35,-4.35],[-1.1,-3.55],[-1.13,-4.45],[-1.15,4.6],[-1.1,4.95],[-0.92,5.7],[-0.92,5.2],[-0.85,4.75],[-0.95,3.95],[-1.03,3.85],[-1.0,2.65],[-1.05,2.1],[-1.12,1.7],[-1.08,0.5],[-1.1,-0.35],[-1.15,-1.3],[-1.12,-2.75],[-1.05,-2.3],[-1.0,-1.3],[-0.98,-0.5],[-0.98,1.4],[-0.92,2.2],[-0.85,3.7],[-0.9,3.4],[-0.78,3.5],[-0.85,2.9],[-0.6,6.2],[-0.5,5.75],[-0.42,5.6],[-0.3,5.0],[-0.53,4.9],[-0.6,4.05],[-0.48,4.15],[-0.42,4.5],[-0.33,4.1],[-0.68,3.95],[-0.5,3.45],[-0.33,3.3],[-0.45,2.85],[-0.62,2.8],[-0.72,1.9],[-0.55,1.5],[-0.35,1.7],[-0.25,3.7],[-0.25,3.3],[-0.18,2.6],[-0.15,7.85],[-0.08,7.35],[0.07,7.25],[0.06,6.6],[-0.04,6.05],[0.05,5.35],[0.15,5.5],[0.18,5.0],[0.07,4.5],[0.0,4.2],[-0.1,4.05],[0.32,6.25],[0.24,6.4],[0.32,5.5],[0.43,7.95],[0.5,6.1],[0.58,6.0],[0.6,6.5],[0.62,6.85],[0.7,6.55],[0.65,5.3],[0.65,4.8],[0.66,4.2],[0.42,5.0],[0.35,5.0],[0.42,3.6],[0.4,3.05],[0.2,2.9],[0.3,2.7],[0.55,3.25],[0.75,8.35],[0.72,7.7],[0.8,7.35],[0.85,5.9],[0.85,5.6],[0.8,4.7],[0.93,4.65],[0.9,5.05],[0.97,5.95],[1.07,7.9],[1.06,10.85],[1.31,9.95],[1.38,8.6],[1.28,5.95],[1.35,5.9],[1.4,5.4],[1.05,5.55],[1.17,4.6],[1.35,4.5],[1.6,4.6],[1.68,4.7],[1.7,5.05],[1.75,5.65],[1.65,6.15],[1.8,6.3],[1.7,7.7],[2.27,5.4],[2.55,6.25],[2.65,7.4],[2.88,3.65],[2.08,3.25],[1.92,2.95],[1.85,3.0],[1.72,3.85],[1.65,3.75],[1.58,3.75],[1.4,3.2],[1.25,3.4],[1.2,3.95],[1.05,3.85],[0.9,3.85],[0.83,3.6],[1.05,3.05],[1.05,2.7],[1.25,2.5],[1.45,2.3],[1.6,2.1],[1.75,2.4],[1.88,2.4],[1.95,2.15],[2.2,2.3],[2.33,2.4],[2.6,1.9],[2.45,1.4],[2.2,1.4],[2.1,1.5],[2.14,1.65],[2.0,1.0],[1.8,0.55],[1.65,0.75],[1.5,1.2],[1.45,0.85],[1.25,1.0],[1.15,0.5],[2.77,1.2],[2.65,0.35],[2.45,0.05],[2.25,0.0],[2.13,0.75],[2.12,-0.05],[2.0,-0.2],[2.08,-0.9],[1.7,-0.4],[1.6,-0.7],[1.5,-0.6],[1.45,-1.0],[1.68,-1.15],[1.6,-1.9],[1.45,-1.45],[2.33,-2.15],[2.63,-1.45],[2.13,-2.75],[1.78,-3.15],[1.85,-3.25],[1.5,-3.05],[1.38,-3.9],[1.3,-3.7],[1.2,-3.75],[2.7,-3.65],[1.98,-4.8],[1.2,-4.65],[1.25,-5.2],[1.05,-5.45],[1.22,-6.3],[-1.2,-8.8],[-1.05,-10.85],[0.2,-9.8],[-0.85,-7.7],[-0.7,-7.25],[-0.6,-7.05],[-0.52,-7.75],[-0.42,-7.35],[-0.27,-7.95],[-0.23,-7.2],[-0.05,-6.85],[0.0,-7.15],[-0.6,-6.65],[-0.68,-6.35],[-0.85,-6.05],[-0.65,-5.85],[-0.55,-5.75],[-0.55,-5.4],[-0.4,-5.65],[-0.25,-6.3],[-0.2,-6.0],[0.0,-6.25],[0.16,-6.6],[0.33,-6.4],[0.45,-6.65],[0.6,-6.95],[0.47,-5.7],[0.57,-5.0],[0.25,-4.95],[0.1,-4.9],[0.0,-4.7],[-0.1,-5.35],[-0.3,-4.7],[-0.45,-4.7],[-0.68,-4.5],[-0.95,-5.1],[-0.9,-5.7],[-1.0,-4.8],[-0.88,-4.0],[-0.75,-3.5],[-0.6,-3.85],[-0.45,-3.85],[-0.3,-4.1],[-0.1,-3.8],[0.05,-4.4],[0.2,-4.2],[0.3,-4.55],[0.35,-3.4],[0.55,-3.8],[0.75,-3.5],[0.85,-4.05],[0.92,-4.2],[0.5,-3.4],[0.2,-3.5],[0.0,-3.4],[-0.2,-3.3],[-0.4,-3.4],[-0.6,-3.0],[-0.8,-2.75],[-0.95,-3.65],[-1.0,-3.0],[0.05,-2.9],[0.25,-2.8],[0.4,-2.6],[0.65,-2.6],[0.85,-3.1],[0.9,-2.7],[1.1,-2.75],[1.25,-2.3],[1.2,-1.95],[0.95,-2.0],[0.85,-1.85],[0.6,-2.2],[0.4,-2.0],[0.2,-1.8],[0.05,-2.4],[-0.1,-2.5],[-0.3,-2.65],[-0.5,-2.4],[-0.7,-2.1],[-0.9,-2.3],[-0.3,-1.9],[-0.15,-1.6],[0.05,-1.3],[0.25,-1.45],[0.5,-1.3],[0.7,-1.65],[0.85,-1.0],[1.05,-1.3],[-0.15,-1.05],[-0.35,-1.1],[-0.5,-1.3],[-0.7,-1.2],[-0.9,-1.0],[-0.28,-0.5],[-0.12,-0.7],[0.05,-0.6],[0.3,-0.8],[0.55,-0.9],[0.75,-0.55],[0.9,-0.45],[1.0,-0.2],[-0.5,-0.3],[-0.7,-0.4],[-0.85,0.1],[-0.6,0.3],[-0.4,0.2],[-0.2,-0.15],[0.0,0.1],[0.2,-0.05],[0.4,0.2],[0.6,0.0],[0.82,0.25],[1.0,0.45],[-0.7,0.9],[-0.5,1.0],[-0.3,0.7],[-0.1,0.7],[0.1,0.8],[0.3,0.9],[0.5,0.7],[0.7,1.0],[0.9,0.95],[-0.25,1.5],[-0.05,1.6],[0.15,1.3],[0.35,1.5],[0.55,1.6],[0.75,1.6],[1.0,1.6],[1.2,1.85],[-0.1,2.1],[0.1,2.25],[0.35,2.1],[0.55,2.0],[0.7,2.3],[0.9,2.5],[1.1,2.0],[-0.45,2.1],[-0.75,1.4],[-0.95,0.85],[-0.85,-0.8],[1.5,-0.05],[1.35,0.15],[0.75,-1.1],[-0.15,0.35],
[-0.58,0.6],[-0.38,-0.6],[-0.22,0.2],[-0.32,-1.55],[-0.05,-1.05],[0.12,-0.25],[0.28,0.35],[0.45,0.55],[0.65,1.3],[0.82,1.35],[1.0,1.15],[1.15,1.35],[1.35,1.55],[1.5,1.75],[1.3,2.1],[0.45,2.45],[0.22,1.75],[0.05,1.15],[-0.15,1.15],[-0.42,1.45],[-0.6,1.25],[-0.8,0.55],[-0.65,-0.05],[-0.45,-0.75],[-0.2,-0.5],[-0.08,-0.25],[0.1,-1.05],[0.35,-1.2],[0.62,-0.45],[0.48,-0.25],[0.72,0.55],[0.92,0.55],[1.1,0.85],[1.25,0.55],[1.38,0.7],[-0.25,0.95],[-0.38,0.4],[0.25,0.4],[0.4,0.85],[0.58,1.05],[-0.05,0.3],[0.12,0.45],[-0.6,-1.55],[-0.78,-1.75],[-0.55,-2.0],[-0.25,-2.25],[-0.02,-1.9],[0.12,-1.55],[0.3,-1.75],[0.52,-1.75],[0.72,-2.25],[0.95,-1.6],[-0.95,-1.75],[-1.12,-1.75],[-1.3,-2.0],[-1.0,-2.55],[-0.72,-2.6],[-0.48,-2.85],[-0.18,-3.0],[0.15,-2.35],[0.3,-3.15],[0.55,-3.0],[0.72,-3.0],[-0.88,-3.3],[-0.62,-3.45],[-0.3,-3.7],[-0.05,-3.4],[0.15,-3.85],[0.42,-3.95],[-0.72,-4.15],[-0.45,-4.3],[-0.15,-4.5],[-0.65,-1.75],[-0.22,-0.9],[0.2,-0.45],[-0.5,0.45],[-0.75,0.2],[-0.9,-0.35],[-1.2,0.1],[-1.05,-0.9],[-1.25,-1.6],[-1.4,-1.35],[-1.2,0.9],[-0.9,1.9],[-0.6,2.5],[-0.3,2.3],[-0.05,2.5],[0.2,2.3],[-0.15,3.1],[0.05,3.35],[-0.4,3.6],[0.25,3.6],[0.15,3.9],[0.9,3.2],[1.25,3.1],[1.45,3.2],[1.55,2.6],[1.3,1.2],[0.75,-0.15],[1.15,-0.35],[1.3,-0.7],[1.05,-0.85],[0.95,-1.6],[0.85,0.05],[1.18,0.15],[0.45,1.9],[0.15,1.55],[-0.2,1.75],[0.65,0.3],[0.52,-0.55],[0.32,-0.45],[-0.05,-0.45],[-0.3,-1.35],[-0.45,-1.75],[0.05,-1.85]];

const pointsPos50 = [[-3.25,-0.35],[-2.87,-1.21],[-2.78,-0.68],[-2.64,-2.07],[-2.41,-1.37],[-2.3,-2.0],[-2.37,-6.22],[-2.13,-5.71],[-2.0,-5.31],[-1.97,-6.44],[-1.97,4.32],[-2.1,0.9],[-2.09,-0.29],[-2.06,-0.57],[-2.14,-0.78],[-2.07,-0.98],[-2.02,-0.85],[-2.24,-1.06],[-2.2,-1.5],[-2.1,-1.7],[-2.0,-1.78],[-1.95,-1.9],[-1.85,-1.75],[-2.05,-2.3],[-2.05,-2.7],[-2.08,-3.2],[-1.98,-3.12],[-1.95,-2.55],[-1.9,-2.3],[-1.8,-2.25],[-1.82,-3.35],[-1.78,-3.6],[-1.8,-3.8],[-1.78,-4.15],[-1.78,-4.3],[-1.68,-3.65],[-1.58,-3.75],[-1.5,-3.78],[-1.57,-4.1],[-1.7,-4.8],[-1.53,-5.27],[-1.3,-4.5],[-1.17,-5.17],[-1.07,-4.3],[-1.07,-4.62],[-1.07,-5.55],[-0.85,-4.6],[-0.8,-5.56],[-0.73,-3.8],[-0.83,-3.78],[-0.7,-4.4],[-0.67,-4.75],[-0.55,-3.75],[-0.52,-3.65],[-0.46,-3.85],[-0.3,-3.6],[-0.25,-3.2],[-0.18,-3.2],[0.1,-3.2],[0.45,-3.15],[0.5,-2.75],[0.23,-4.45],[0.65,-4.4],[0.47,-3.8],[-1.3,-3.7],[-1.4,-3.4],[-1.32,-3.2],[-1.72,-2.95],[-1.7,-2.45],[-1.6,-2.7],[-1.75,-1.9],[-1.85,-1.1],[-1.72,-1.12],[-1.6,-1.0],[-1.8,-0.15],[-1.8,0.15],[-1.72,0.65],[-1.78,1.0],[-1.58,1.4],[-1.58,2.57],[-1.6,-0.3],[-1.6,0.15],[-1.52,0.1],[-1.42,-0.1],[-1.35,0.05],[-1.45,0.55],[-1.35,0.6],[-1.3,0.7],[-1.3,0.3],[-1.28,1.8],[-1.13,1.5],[-1.15,1.3],[-1.1,1.6],[-1.05,2.05],[-1.05,0.8],[-1.05,0.15],[-0.95,0.3],[-0.95,0.7],[-0.9,1.2],[-0.92,3.15],[-0.88,2.45],[-0.85,2.75],[-0.65,2.5],[-0.65,2.2],[-0.65,2.95],[-0.52,3.0],[-0.45,2.85],[-0.35,2.95],[-0.48,2.55],[-0.33,2.4],[-0.3,2.15],[-0.2,2.4],[-0.4,3.7],[-0.35,3.5],[-0.15,3.05],[-0.05,3.7],[0.0,3.2],[0.1,3.2],[0.15,3.55],[0.32,3.75],[0.32,4.05],[-0.17,4.45],[-0.08,4.45],[0.17,4.55],[0.17,4.32],[0.32,4.3],[0.45,4.3],[0.52,4.55],[0.67,4.4],[0.9,4.65],[0.92,4.25],[1.02,4.15],[1.08,4.3],[1.13,3.95],[1.13,3.7],[1.08,3.4],[1.0,3.3],[0.76,3.75],[0.6,3.6],[0.58,3.4],[0.42,3.3],[0.28,3.1],[0.4,2.8],[0.12,2.75],[0.25,2.65],[0.55,2.9],[0.68,3.0],[0.95,3.0],[1.15,3.05],[1.3,4.05],[1.28,3.9],[1.48,4.85],[1.51,4.45],[1.78,4.45],[1.8,3.95],[1.75,3.6],[2.05,4.0],[2.23,5.9],[2.72,6.12],[2.4,3.95],[2.65,3.9],[2.53,3.5],[2.15,3.1],[1.92,3.0],[3.48,3.2],[1.55,3.15],[1.5,3.1],[1.55,2.75],[1.65,2.65],[1.72,2.65],[1.25,2.75],[1.05,2.75],[1.1,2.4],[1.25,2.4],[1.4,1.95],[1.47,2.2],[1.45,2.05],[1.55,1.95],[1.8,2.1],[1.85,1.95],[1.7,1.9],[1.77,1.65],[1.9,1.65],[2.45,2.35],[2.35,1.9],[2.55,1.8],[2.22,1.5],[2.37,1.5],[2.33,1.1],[1.87,1.15],[1.75,0.9],[1.95,0.55],[1.9,0.35],[2.09,0.6],[2.38,0.3],[1.7,0.55],[1.58,0.65],[1.4,0.6],[1.55,-0.2],[1.45,-0.2],[1.73,-0.1],[1.72,-0.6],[2.07,-0.8],[1.35,-0.95],[1.25,-1.8],[1.05,-1.8],[0.88,-1.8],[1.48,-2.1],[1.55,-2.15],[1.7,-2.05],[1.2,-1.3],[1.1,-1.2],[1.0,-1.25],[0.95,-0.95],[1.1,-0.7],[1.2,-0.6],[1.25,-0.25],[1.08,-0.15],[1.28,0.15],[1.38,0.15],[1.1,0.3],[1.0,0.5],[0.85,0.25],[0.75,-0.05],[0.65,-0.3],[0.75,-0.75],[0.6,-1.05],[0.72,-1.4],[0.58,-1.85],[0.38,-1.85],[0.4,-2.15],[0.3,-2.2],[0.15,-2.3],[0.05,-2.0],[-0.05,-2.4],[-0.15,-2.75],[-0.25,-2.55],[0.1,-2.55],[0.25,-2.7],[0.3,-2.95],[-0.3,-3.05],[-0.45,-2.9],[-0.55,-2.75],[-0.72,-2.9],[-0.72,-2.45],[-0.87,-2.7],[-0.95,-3.05],[-1.05,-3.2],[-1.1,-2.85],[-1.2,-2.65],[-1.15,-2.25],[-1.3,-2.5],[-1.38,-2.4],[-1.45,-2.85],[-1.48,-2.0],[-1.4,-1.85],[-1.5,-1.4],[-1.4,-1.15],[-1.3,-1.55],[-1.18,-1.65],[-1.05,-1.5],[-1.2,-0.9],[-1.1,-0.5],[-1.0,-0.85],[-0.95,-1.3],[-0.9,-1.9],[-0.85,-2.25],[-0.7,-2.1],[-0.6,-1.7],[-0.55,-2.2],[-0.35,-2.0],[-0.25,-1.75],[-0.42,-1.55],[-0.55,-1.15],[-0.7,-1.35],[-0.8,-0.9],[-0.82,-0.35],[-0.68,-0.4],[-0.55,-0.75],[-0.35,-1.1],[-0.2,-1.5],[-0.05,-1.55],[0.1,-1.75],[0.25,-1.15],[0.38,-0.95],[0.48,-0.6],[0.35,-0.3],[0.2,-0.85],[0.05,-0.6],[-0.1,-1.0],[-0.2,-0.55],[-0.35,-0.2],[-0.55,-0.05],[-0.75,0.0],[-0.85,0.35],[-0.72,0.55],[-0.55,0.4],[-0.4,0.05],[-0.2,0.15],[-0.05,-0.15],[0.1,0.15],[0.25,-0.05],[0.42,0.15],[0.55,0.25],[0.65,0.55],[0.85,0.75],[1.0,0.9],[1.15,0.95],[1.3,1.1],[1.45,1.3],[1.6,1.3],[1.1,1.3],[0.95,1.45],[0.78,1.2],[0.6,1.05],[0.45,0.75],[0.3,0.6],[0.15,0.75],[0.0,0.45],[-0.15,0.55],[-0.3,0.4],[-0.5,0.8],[-0.68,1.0],[-0.55,1.25],[-0.38,1.45],[-0.22,0.85],[-0.05,1.0],[0.1,1.3],[0.25,0.95],[0.4,1.1],[0.55,1.5],[0.72,1.7],[0.9,1.75],[1.05,1.85],[1.2,1.65],[0.65,2.0],[0.5,2.35],[0.32,1.85],[0.2,1.65],[0.05,1.75],[-0.1,1.7],[-0.3,1.75],[-0.45,1.9],[0.0,2.35],[0.15,2.15],[0.3,2.3],[0.78,2.4],[0.9,2.3],[-0.6,0.05],[0.45,0.5],[0.35,1.25],[0.5,-0.2],[0.9,-0.4],[0.75,0.4],[-1.0,-0.3],[-1.35,-0.55],[-1.55,-0.8],[-1.25,-1.2],
[0.12,0.55],[0.22,0.82],[0.35,0.95],[0.47,1.3],[0.32,1.45],[0.17,1.12],[0.05,0.82],[-0.12,0.75],[-0.07,0.35],[0.08,0.42],[0.24,0.35],[0.38,0.4],[0.5,0.62],[0.62,0.82],[0.7,1.35],[0.88,1.1],[1.02,1.2],[1.2,1.3],[1.35,1.4],[0.95,0.6],[0.58,1.72],[0.38,2.05],[0.18,2.45],[-0.25,1.35],[-0.45,1.05],[-0.62,0.75],[-0.85,0.95],[-1.02,0.42],[-1.18,0.3],[-1.12,0.95],[-0.98,1.55],[-0.75,1.55],[-0.7,1.85],[-0.52,1.65],[-0.18,1.45],[-0.33,1.05],[-0.1,1.32],[-0.3,0.15],[-0.45,-0.2],[-0.62,-0.25],[-0.88,-0.1],[-1.18,-0.3],[-1.25,-0.65],[-1.02,-1.05],[-0.8,-1.3],[-0.62,-0.95],[-0.45,-0.8],[-0.28,-0.8],[-0.12,-0.35],[0.02,-0.22],[0.15,-0.38],[0.3,-0.55],[0.45,-0.35],[0.62,-0.1],[0.82,-0.15],[0.95,0.05],[1.15,0.1],[0.55,-0.75],[0.4,-1.3],[0.25,-1.55],[0.12,-1.2],[-0.05,-1.25],[-0.22,-1.2],[-0.38,-1.55],[-0.5,-1.65],[-0.72,-1.7],[-0.82,-1.55],[-0.98,-1.7],[-1.12,-2.0],[-1.28,-2.15],[-0.45,-2.35],[-0.2,-2.2],[-0.1,-1.9],[-0.62,-2.45],[-0.98,-2.45],[-1.25,-2.8],[-1.12,-3.1],[-0.88,-3.15],[0.85,-0.95],[1.0,-0.55],[0.52,0.9],[0.75,0.95],[0.92,1.15],[0.28,0.22],[-0.15,0.2],[0.18,-0.12],[-0.28,-0.35],[0.68,0.15],[0.85,0.5],[1.22,0.5],[1.32,0.7],[1.52,0.9],[1.02,2.05],[0.85,2.0],[0.62,2.3],[-0.15,2.1],[-0.3,2.05],[-0.55,2.35],[-0.95,1.8],[-1.45,-0.35],[-1.25,0.05],[-1.5,-1.0],[-1.62,-1.5],[-1.55,-1.6],[-1.6,-2.05],[-1.5,-2.45],[0.25,1.38],[0.12,1.02],[0.42,0.92],[0.05,0.12],[-0.02,0.18],[0.3,0.78],[0.2,0.28],[0.48,1.05],[0.38,0.62],[-0.75,-0.5]];

const pointsPos80 = [[-2.77,-2.43],[-2.47,-3.78],[-2.44,-2.18],[-2.39,-3.2],[-2.25,-3.65],[-2.25,-2.25],[-2.5,-1.63],[-2.39,-1.5],[-2.29,-1.0],[-2.28,-1.2],[-2.18,-3.0],[-2.17,-3.08],[-2.16,-1.7],[-2.07,-1.5],[-2.05,-1.55],[-2.02,-1.65],[-2.05,-2.2],[-2.0,-2.25],[-1.97,-2.3],[-2.09,-2.83],[-2.0,-2.88],[-2.05,-0.27],[-1.78,-0.28],[-1.9,-0.9],[-1.87,-1.0],[-1.9,-1.55],[-1.9,-1.68],[-1.85,-1.72],[-1.85,-1.9],[-1.78,-1.88],[-1.72,-1.95],[-1.85,-2.25],[-1.75,-2.23],[-1.82,-2.45],[-1.9,-2.8],[-1.85,-2.75],[-1.78,-2.78],[-1.83,-3.0],[-1.9,-3.78],[-1.68,-2.2],[-1.68,-2.35],[-1.72,-0.72],[-1.6,-0.7],[-1.58,-1.0],[-1.62,-1.55],[-1.65,-1.7],[-1.58,-2.0],[-1.5,-1.95],[-1.45,-2.0],[-1.5,-2.4],[-1.5,-2.65],[-1.45,-2.75],[-1.42,-2.92],[-1.48,-3.18],[-1.3,-2.92],[-1.3,-2.45],[-1.25,-2.3],[-1.2,-2.3],[-1.17,-2.0],[-1.25,-3.65],[-1.19,-3.95],[-0.99,-2.28],[-1.0,-2.1],[-0.9,-2.05],[-0.85,-2.48],[-0.53,-2.33],[-0.22,-2.48],[0.37,-2.35],[-0.05,-1.82],[-0.18,-1.65],[-0.3,-2.08],[-0.28,-2.03],[0.07,-1.65],[0.4,-1.63],[-1.25,0.95],[-1.32,0.23],[-1.27,0.2],[-1.25,0.15],[-1.45,0.23],[-1.5,-0.2],[-1.46,-0.45],[-1.55,-0.6],[-1.3,-0.1],[-1.35,-0.35],[-1.15,-0.15],[-1.05,-0.05],[-1.2,-0.48],[-1.15,-0.65],[-1.0,0.05],[-0.97,0.45],[-0.98,-0.2],[-0.85,0.58],[-0.8,0.45],[-0.82,0.2],[-0.72,0.98],[-0.67,0.87],[-0.7,0.25],[-0.57,0.77],[-0.48,1.0],[-0.45,1.17],[-0.45,0.38],[-0.48,0.45],[-0.33,1.1],[-0.22,1.18],[-0.2,1.48],[-0.15,1.1],[-0.1,0.95],[-0.28,0.6],[-0.1,0.55],[0.0,1.22],[0.15,1.2],[0.15,1.95],[0.2,1.98],[0.15,2.65],[0.5,2.4],[0.62,2.5],[0.85,2.6],[0.52,2.08],[0.42,2.08],[0.63,2.0],[0.85,2.17],[0.85,2.05],[1.03,3.15],[1.0,2.0],[1.05,2.15],[1.08,2.25],[1.1,2.4],[1.3,2.2],[1.35,2.25],[1.45,2.15],[1.42,2.8],[1.5,2.55],[1.5,2.45],[1.65,2.6],[1.7,2.68],[1.68,2.37],[1.58,2.1],[1.65,2.1],[1.85,3.05],[1.87,2.88],[1.95,2.75],[2.02,2.72],[2.05,2.75],[2.15,2.95],[2.2,3.22],[2.17,3.55],[2.2,3.95],[2.25,3.9],[2.62,3.22],[2.65,3.52],[2.29,2.5],[2.08,2.3],[1.92,2.12],[1.95,1.95],[2.08,2.0],[2.12,2.05],[2.08,1.65],[1.85,1.55],[1.87,1.5],[1.95,1.15],[1.93,1.0],[2.07,0.75],[2.55,1.8],[2.85,1.8],[2.87,1.65],[3.1,1.37],[2.36,0.7],[1.65,0.12],[1.75,1.95],[1.78,1.85],[1.72,1.8],[1.75,1.4],[1.8,1.25],[1.72,1.15],[1.75,0.85],[1.6,0.8],[1.52,0.8],[1.42,0.85],[1.42,0.45],[1.4,0.6],[1.28,0.75],[1.2,0.75],[1.25,0.1],[1.1,0.1],[1.05,-0.2],[1.12,-0.47],[0.95,-1.33],[0.8,-0.82],[0.86,-0.65],[0.85,-0.4],[0.67,-1.15],[0.58,-1.35],[0.62,-0.82],[0.55,-0.82],[0.67,-0.58],[0.37,-1.0],[0.37,-0.8],[0.28,-1.2],[0.25,-1.35],[0.25,-1.45],[0.1,-1.25],[0.05,-1.0],[0.2,-0.75],[0.0,-1.5],[-0.1,-1.4],[-0.02,-1.2],[-0.15,-1.2],[-0.25,-1.4],[-0.35,-1.45],[-0.38,-1.7],[-0.42,-1.68],[-0.5,-1.3],[-0.62,-1.45],[-0.7,-1.7],[-0.72,-2.05],[-0.78,-1.9],[-0.9,-1.85],[-0.85,-1.55],[-1.0,-1.35],[-1.1,-1.55],[-1.15,-1.85],[-1.08,-1.9],[-1.2,-1.65],[-1.3,-1.45],[-1.35,-1.2],[-1.42,-1.55],[-1.25,-1.1],[-1.15,-1.25],[-1.0,-1.15],[-0.85,-1.1],[-0.72,-1.3],[-0.58,-1.15],[-0.42,-1.25],[-0.3,-1.1],[-0.12,-0.85],[0.02,-0.8],[0.15,-0.65],[0.35,-0.5],[0.5,-0.5],[0.62,-0.25],[0.75,-0.28],[0.85,-0.15],[0.95,0.15],[1.08,0.35],[1.2,0.45],[1.38,0.65],[1.55,1.1],[1.62,1.3],[1.45,1.45],[1.35,1.0],[1.2,1.2],[1.05,1.1],[1.0,0.75],[0.85,0.55],[0.7,0.3],[0.55,0.1],[0.42,-0.15],[0.28,-0.2],[0.12,-0.4],[-0.02,-0.5],[-0.2,-0.6],[-0.35,-0.8],[-0.5,-0.85],[-0.65,-0.95],[-0.8,-0.7],[-0.95,-0.7],[-1.08,-0.85],[-0.98,-0.45],[-0.8,-0.2],[-0.65,-0.35],[-0.5,-0.35],[-0.35,-0.4],[-0.2,-0.25],[-0.05,-0.05],[0.08,0.1],[0.22,0.2],[0.38,0.3],[0.52,0.35],[0.68,0.65],[0.82,0.85],[0.95,1.15],[1.1,1.4],[1.25,1.45],[1.4,1.85],[1.25,1.9],[1.08,1.75],[0.92,1.55],[0.78,1.35],[0.65,1.1],[0.5,0.85],[0.35,0.7],[0.2,0.6],[0.05,0.45],[-0.1,0.2],[-0.28,0.1],[-0.42,-0.05],[-0.58,-0.05],[-0.72,-0.1],[-0.55,0.2],[-0.35,0.3],[-0.18,0.5],[0.0,0.75],[0.15,0.95],[0.3,1.1],[0.45,1.35],[0.6,1.5],[0.72,1.7],[0.9,1.85],[0.3,1.45],[0.15,1.15],[0.0,0.95],[0.42,1.05],[0.55,1.4],[0.75,1.0],[0.9,0.4],[0.6,-0.1],[0.25,0.45],[0.05,0.2],[0.12,-0.15],[-0.25,-1.0],[-0.48,-1.55],[-0.15,-0.15],[-0.62,0.0],[-0.85,-0.45],[-1.25,-0.8],[-1.4,-0.95],[-1.62,-1.3],[-1.55,-1.45],[-1.0,-1.65],[-1.18,-1.45],[1.5,1.55],[1.15,0.9],[1.0,1.4],[0.5,0.55],
[0.33,0.92],[0.47,0.2],[0.62,0.48],[0.75,0.72],[0.9,0.62],[0.93,0.9],[1.08,0.85],[1.22,0.95],[1.33,1.25],[1.5,1.3],[1.02,1.6],[1.18,1.62],[0.85,1.35],[0.68,1.25],[0.52,1.15],[0.38,0.5],[0.2,0.82],[0.08,0.62],[-0.05,0.35],[-0.12,0.08],[0.02,-0.15],[0.15,0.02],[0.3,0.08],[0.45,0.02],[0.32,-0.32],[0.18,-0.5],[0.05,-0.62],[-0.1,-0.35],[-0.28,-0.35],[-0.4,-0.6],[-0.52,-0.6],[-0.68,-0.72],[-0.82,-0.95],[-0.95,-1.0],[-0.62,-1.2],[-0.45,-1.05],[-0.3,-0.6],[-0.15,-0.7],[-0.75,-0.5],[-0.55,-0.15],[-0.38,0.12],[-0.22,-0.1],[-0.6,-1.65],[-0.78,-1.45],[-0.95,-1.55],[-1.1,-1.1],[-1.28,-1.25],[-1.1,-2.05],[-1.38,-1.75],[-1.48,-1.3],[-1.28,-1.75],[-0.78,-1.1],[-0.92,-0.35],[-1.12,-0.3],[-0.88,0.0],[-0.62,0.15],[-0.48,0.25],[-0.25,0.32],[-0.02,0.08],[0.12,0.32],[0.58,0.72],[0.72,0.92],[1.1,0.6],[1.28,0.4],[0.92,0.2],[0.72,-0.05],[0.55,-0.28],[0.38,0.05],[0.98,1.0],[1.12,1.18],[1.38,1.35],[1.25,1.7],[0.88,1.18],[0.48,0.65],[0.28,0.25],[0.1,0.02],[-0.4,-1.0],[-0.58,-0.55],[-0.18,-0.45],[-0.02,-0.3],[0.22,-0.02],[-0.75,-0.3],[-1.05,-0.55],[-1.2,-0.95],[-1.32,-0.7],[-1.62,-1.05],[-1.7,-1.5],[-1.75,-1.65],[-1.65,-1.95],[-1.28,-2.05],[-1.45,-1.75],[-1.02,-1.85],[-0.82,-1.7],[-0.55,-1.8],[-0.22,-1.25],[0.05,-0.95],[0.22,-0.95],[0.42,-0.35],[0.48,-0.72],[0.25,-0.55],[0.78,0.1],[1.0,0.55],[1.18,0.55],[1.48,1.05],[1.55,1.45],[1.3,1.6],[1.15,1.8],[0.98,1.75],[0.75,1.55],[0.45,0.95],[0.6,0.92],[0.15,0.4],[0.3,0.62],[0.78,0.55]];

const pointsPos100 = [[-3.74,-3.74],[-3.61,-3.61],[-3.02,-3.02],[-2.93,-2.93],[-2.54,-2.54],[-2.42,-2.42],[-2.39,-2.39],[-2.35,-2.35],[-2.31,-2.31],[-2.27,-2.27],[-2.2,-2.2],[-2.16,-2.16],[-2.11,-2.11],[-2.06,-2.06],[-2.01,-2.01],[-1.95,-1.95],[-1.9,-1.9],[-1.84,-1.84],[-1.79,-1.79],[-1.73,-1.73],[-1.67,-1.67],[-1.62,-1.62],[-1.56,-1.56],[-1.5,-1.5],[-1.45,-1.45],[-1.39,-1.39],[-1.33,-1.33],[-1.28,-1.28],[-1.22,-1.22],[-1.16,-1.16],[-1.11,-1.11],[-1.05,-1.05],[-0.99,-0.99],[-0.94,-0.94],[-0.88,-0.88],[-0.82,-0.82],[-0.77,-0.77],[-0.71,-0.71],[-0.65,-0.65],[-0.6,-0.6],[-0.54,-0.54],[-0.48,-0.48],[-0.43,-0.43],[-0.37,-0.37],[-0.31,-0.31],[-0.26,-0.26],[-0.2,-0.2],[-0.14,-0.14],[-0.09,-0.09],[-0.03,-0.03],[0.03,0.03],[0.08,0.08],[0.14,0.14],[0.2,0.2],[0.25,0.25],[0.31,0.31],[0.37,0.37],[0.42,0.42],[0.48,0.48],[0.54,0.54],[0.59,0.59],[0.65,0.65],[0.71,0.71],[0.76,0.76],[0.82,0.82],[0.88,0.88],[0.93,0.93],[0.99,0.99],[1.05,1.05],[1.1,1.1],[1.16,1.16],[1.22,1.22],[1.27,1.27],[1.33,1.33],[1.39,1.39],[1.44,1.44],[1.5,1.5],[1.56,1.56],[1.61,1.61],[1.67,1.67],[1.73,1.73],[1.79,1.79],[1.84,1.84],[1.9,1.9],[1.95,1.95],[2.0,2.0],[2.05,2.05],[2.1,2.1],[2.14,2.14],[2.18,2.18],[2.3,2.3],[2.35,2.35],[2.46,2.46],[2.52,2.52],[2.78,2.78],[3.14,3.14],[3.18,3.18]];

// Major tick values for each axis, with the lighter half-step grid lines.
const ticksEvenMajor = [-4, -2, 0, 2];
const ticksEvenMinor = [-3, -1, 1, 3];
const ticksNarrowMajor = [-2, 0, 2];
const ticksNarrowMinor = [-3, -1, 1, 3];
const ticksFourMajor = [-4, 0, 4];
const ticksFourMinor = [-6, -2, 2, 6];
const ticksTenMajor = [-10, -5, 0, 5, 10];
const ticksTenMinor = [-12.5, -7.5, -2.5, 2.5, 7.5];
const ticksOneMajor = [-3, -2, -1, 0, 1, 2, 3];
const ticksOneMinor = [-2.5, -1.5, -0.5, 0.5, 1.5, 2.5];

const titles = ['r = -1', 'r = -0.8', 'r = -0.5', 'r = -0.3', 'r = 0.035', 'r = 0.3', 'r = 0.5', 'r = 0.8', 'r = 1'];

// Panel table: data, axis limits and tick sets.
const panels = [
  { points: pointsNeg100, x: [-4.43, 3.41], y: [-3.41, 4.42], xt: [ticksEvenMajor, ticksEvenMinor], yt: [[-2, 0, 2, 4], ticksEvenMinor], plotLeft: 43.3, plotTop: 24 },
  { points: pointsNeg80, x: [-3.47, 3.83], y: [-4.09, 3.64], xt: [ticksNarrowMajor, ticksNarrowMinor], yt: [[-4, -2, 0, 2], ticksEvenMinor], plotLeft: 43.3, plotTop: 24 },
  { points: pointsNeg50, x: [-3.43, 3.66], y: [-6.36, 7.53], xt: [ticksNarrowMajor, ticksNarrowMinor], yt: [ticksFourMajor, ticksFourMinor], plotLeft: 43.3, plotTop: 24 },
  { points: pointsNeg30, x: [-3.73, 3.53], y: [-13.46, 12.56], xt: [ticksNarrowMajor, ticksNarrowMinor], yt: [ticksTenMajor, ticksTenMinor], plotLeft: 50, plotTop: 23.3 },
  { points: pointsZero, x: [-3.69, 3.75], y: [-3.58, 3.09], xt: [ticksNarrowMajor, ticksNarrowMinor], yt: [[-2, 0, 2], ticksEvenMinor], plotLeft: 43.3, plotTop: 23.3 },
  { points: pointsPos30, x: [-4.09, 3.2], y: [-11.88, 11.93], xt: [ticksEvenMajor, ticksEvenMinor], yt: [ticksTenMajor, [-7.5, -2.5, 2.5, 7.5]], plotLeft: 50, plotTop: 23.3 },
  { points: pointsPos50, x: [-3.6, 3.83], y: [-6.92, 6.72], xt: [ticksNarrowMajor, ticksNarrowMinor], yt: [ticksFourMajor, ticksFourMinor], plotLeft: 43.3, plotTop: 24 },
  { points: pointsPos80, x: [-3.05, 3.39], y: [-4.31, 4.36], xt: [ticksOneMajor, ticksOneMinor], yt: [[-4, -2, 0, 2, 4], ticksEvenMinor], plotLeft: 43.3, plotTop: 24 },
  { points: pointsPos100, x: [-4.07, 3.53], y: [-4.06, 3.5], xt: [ticksEvenMajor, ticksEvenMinor], yt: [[-4, -2, 0, 2], ticksEvenMinor], plotLeft: 43.3, plotTop: 24 }
];

const CELL_W = 500, CELL_H = 365, LOGICAL_W = 334;
const STRETCH = CELL_W / LOGICAL_W;
const ROW_TOPS = [0, 365, 729];
const FAMILY = '"Liberation Sans", Arial, sans-serif';

// Panel background, filled behind the grid.
const panelBackground = {
  id: 'panelBackground',
  beforeDraw(chart) {
    const { ctx, chartArea: a } = chart;
    ctx.save();
    ctx.fillStyle = '#EBEBEB';
    ctx.fillRect(a.left, a.top, a.right - a.left, a.bottom - a.top);
    ctx.restore();
  }
};

function axis(position, range, ticks, label, fit) {
  const [majors, minors] = ticks;
  const isMajor = v => majors.includes(v);
  return {
    type: 'linear',
    position,
    min: range[0],
    max: range[1],
    afterBuildTicks(scale) {
      scale.ticks = majors.concat(minors)
        .filter(v => v >= range[0] && v <= range[1])
        .sort((a, b) => a - b)
        .map(value => ({ value }));
    },
    afterFit: fit,
    border: { display: false },
    grid: {
      color: '#FFFFFF',
      lineWidth: c => (isMajor(c.tick.value) ? 1.05 : 0.55),
      tickColor: c => (isMajor(c.tick.value) ? '#333333' : 'rgba(0,0,0,0)'),
      tickLength: position === 'left' ? 2.7 : 3,
      tickWidth: 0.8
    },
    ticks: {
      autoSkip: false,
      maxRotation: 0,
      minRotation: 0,
      padding: position === 'left' ? 1 : 1.5,
      color: '#4D4D4D',
      font: { family: FAMILY, size: 8 },
      callback: v => (isMajor(v) ? String(v) : '')
    },
    title: {
      display: true,
      text: label,
      color: '#000000',
      font: { family: FAMILY, size: 10 },
      padding: position === 'left' ? { top: 3.5, bottom: 0 } : { top: 0, bottom: 6 }
    }
  };
}

const page = document.getElementById('page');
panels.forEach((p, i) => {
  const col = i % 3, row = Math.floor(i / 3);
  const cell = document.createElement('div');
  cell.className = 'cell';
  cell.style.left = (col * CELL_W) + 'px';
  cell.style.top = ROW_TOPS[row] + 'px';
  cell.style.transform = 'scaleX(' + STRETCH + ')';
  const canvas = document.createElement('canvas');
  cell.appendChild(canvas);
  page.appendChild(cell);
  canvas.style.width = LOGICAL_W + 'px';
  canvas.style.height = CELL_H + 'px';
  canvas.width = LOGICAL_W;
  canvas.height = CELL_H;

  const yAxisWidth = p.plotLeft / STRETCH;
  new Chart(canvas, {
    type: 'scatter',
    data: {
      datasets: [{
        data: p.points.map(([x, y]) => ({ x, y })),
        backgroundColor: '#000000',
        borderWidth: 0,
        pointRadius: 2.6,
        pointHoverRadius: 2.6
      }]
    },
    options: {
      responsive: false,
      animation: false,
      devicePixelRatio: 2,
      events: [],
      layout: { padding: { left: 0, right: (500 - 492.3) / STRETCH, top: 0, bottom: 0 } },
      plugins: {
        legend: { display: false },
        tooltip: { enabled: false },
        title: {
          display: true,
          text: titles[i],
          align: 'start',
          fullSize: false,
          color: '#000000',
          font: { family: FAMILY, size: 12.5, weight: 'normal', lineHeight: 1.2 },
          padding: { top: 3, bottom: p.plotTop - 18 }
        }
      },
      scales: {
        x: axis('bottom', p.x, p.xt, 'x', s => { s.height = 33; }),
        y: axis('left', p.y, p.yt, 'y', s => { s.width = yAxisWidth; })
      }
    },
    plugins: [panelBackground]
  });
});
</script>
</body>
</html>
